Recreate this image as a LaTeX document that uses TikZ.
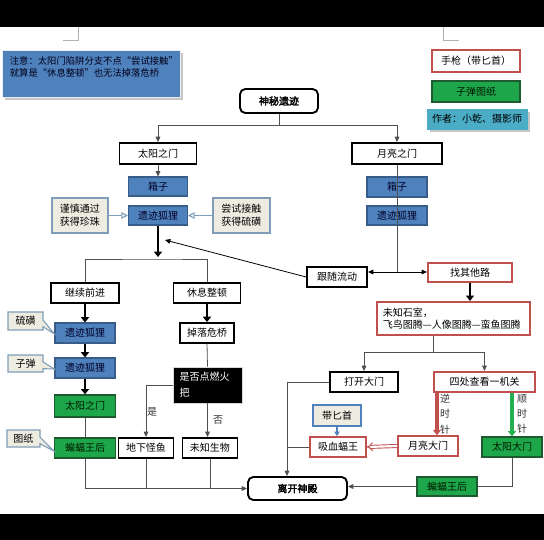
\documentclass[tikz,border=0pt]{standalone}
\usepackage{fontspec}
\setmainfont{Noto Sans CJK SC}[AutoFakeBold=2.5]
\usetikzlibrary{arrows.meta,shapes.callouts,shadows,calc}
\definecolor{bluefill}{HTML}{4F81BD}
\definecolor{blueline}{HTML}{385D8A}
\definecolor{greenfill}{HTML}{1DA74A}
\definecolor{greenline}{HTML}{1E5A30}
\definecolor{greenarrow}{HTML}{22B050}
\definecolor{redline}{HTML}{C0504D}
\definecolor{beige}{HTML}{EEECE1}
\definecolor{calloutline}{HTML}{7F9DB9}
\definecolor{lightblue}{HTML}{4BACC6}
\definecolor{connc}{HTML}{505050}
\begin{document}
\begin{tikzpicture}[x=0.75pt,y=-0.75pt,
  font=\fontsize{7.5pt}{9.5pt}\selectfont,
  wh/.style 2 args={minimum width=#1*0.75pt, minimum height=#2*0.75pt},
  boxbase/.style={draw, inner sep=0pt, align=center, text=black},
  blk/.style={boxbase, line width=1.4pt, fill=white},
  rnd/.style={blk, rounded corners=4pt, font=\fontsize{7.5pt}{9pt}\selectfont\bfseries},
  bluebox/.style={boxbase, fill=bluefill, draw=blueline, line width=0.8pt, text=blue!15!black},
  greenbox/.style={boxbase, fill=greenfill, draw=greenline, line width=1pt, text=green!10!black},
  redbox/.style={boxbase, fill=white, draw=redline, line width=1.2pt},
  redboxthick/.style={redbox, line width=1.6pt},
  beigebox/.style={boxbase, fill=beige, draw=calloutline, line width=0.8pt},
  calloutbox/.style={rectangle callout, beigebox, callout pointer width=5pt},
  cline/.style={draw=connc, line width=0.6pt},
  carrow/.style={cline, -{Triangle[length=4pt,width=3.5pt]}},
  thickarrow/.style={draw=black, line width=2pt, -{Triangle[length=4pt,width=6pt]}},
  openarrow/.style={draw=calloutline, line width=0.8pt, -{Triangle[open,length=5pt,width=5pt]}},
  lbl/.style={inner sep=0pt, text=black!80}
]
\useasboundingbox (0,0) rectangle (544,540);
\fill[white] (0,0) rectangle (544,540);
\fill[black] (0,0) rectangle (544,26.5);
\fill[black] (0,513.5) rectangle (544,540);
\draw[gray!60, line width=0.4pt] (78,27) -- (78,40) -- (63,40);
\draw[gray!60, line width=0.4pt] (443,27) -- (443,40) -- (459,40);

% note and legend
\node[boxbase, fill=bluefill, draw=gray!15, line width=0.6pt, wh={178}{47},
  drop shadow={shadow xshift=2pt, shadow yshift=-2pt, fill=gray!45, opacity=1}] (note) at (91,73.5) {};
\node[anchor=north west, align=left, inner sep=0pt, text=blue!10!black,
  font=\fontsize{7pt}{8.8pt}\selectfont] (notetext) at ($(note.north west)+(8,7)$)
  {注意：太阳门陷阱分支不点“尝试接触”\\就算是“休息整顿”也无法掉落危桥};
\node[redbox, line width=1.4pt, wh={88}{22}] (gun) at (476,61) {手枪（带匕首）};
\node[greenbox, wh={88}{21}] (bulletlegend) at (476,91.5) {子弹图纸};
\node[boxbase, fill=lightblue, draw=lightblue, wh={100}{20},
  drop shadow={shadow xshift=2pt, shadow yshift=-2pt, fill=gray!45, opacity=1}] (author) at (477,119) {作者：小乾、摄影师};

% main nodes
\node[rnd, wh={78}{24}] (title) at (279,101) {神秘遗迹};
\node[blk, wh={77}{21}] (sun) at (158,153.5) {太阳之门};
\node[blk, wh={90}{21}] (moon) at (397,153.5) {月亮之门};
\node[bluebox, wh={59}{19}] (box1) at (158,186.5) {箱子};
\node[bluebox, wh={59}{19}] (relic1) at (158,215.5) {遗迹狐狸};
\node[beigebox, wh={56}{35}] (careful) at (80,215.5) {谨慎通过\\获得珍珠};
\node[beigebox, wh={57}{35}] (try) at (241.5,215.5) {尝试接触\\获得硫磺};
\node[bluebox, wh={60}{20}] (box2) at (397,187) {箱子};
\node[bluebox, wh={60}{19}] (relic2) at (397,215.5) {遗迹狐狸};
\node[blk, wh={60}{20}] (follow) at (337,277) {跟随流动};
\node[redboxthick, wh={84}{19}] (other) at (470,272.5) {找其他路};

\node[blk, wh={68}{20}] (cont) at (85,293) {继续前进};
\node[blk, wh={67}{20}] (rest) at (207,293) {休息整顿};
\node[bluebox, wh={60}{20}] (relicA) at (85,333) {遗迹狐狸};
\node[bluebox, wh={60}{20}] (relicB) at (85,368) {遗迹狐狸};
\node[greenbox, wh={61}{22}] (sungreen) at (85,406) {太阳之门};
\node[greenbox, wh={61}{20}] (queenL) at (85,448) {蝙蝠王后};
\node[calloutbox, wh={35}{18}, callout absolute pointer={($(relicA.west)+(0,1)$)}] (sulfur) at (25.5,321) {硫磺};
\node[calloutbox, wh={35}{17}, callout absolute pointer={($(relicB.west)+(0,1)$)}] (bullet) at (25.5,363.5) {子弹};
\node[calloutbox, wh={33}{17}, callout absolute pointer={($(queenL.west)+(0,3)$)}] (paper) at (23.5,438.5) {图纸};

\node[blk, wh={54}{20}] (bridge) at (207,333) {掉落危桥};
\node[boxbase, fill=black, draw=gray!30, line width=0.6pt, wh={69}{36}, text=white, align=left,
  text width=42pt, font=\fontsize{7.5pt}{12pt}\selectfont] (torch) at (207.5,385) {是否点燃火\\把};
\node[blk, wh={55}{20}] (fish) at (146,448) {地下怪鱼};
\node[blk, wh={55}{20}] (creature) at (210,448) {未知生物};
\node[rnd, wh={99}{23}] (leave) at (297.5,488.5) {离开神殿};

\node[redboxthick, wh={153}{33}, align=left, text width=106pt] (stone) at (453.5,318.5)
  {未知石室，\\飞鸟图腾—人像图腾—蛮鱼图腾};
\node[blk, wh={68}{20}] (open) at (364,382) {打开大门};
\node[redboxthick, wh={101}{20}] (look) at (484.5,382) {四处查看一机关};
\node[beigebox, draw=bluefill, line width=1pt, wh={48}{21}] (dagger) at (337,415.5) {带匕首};
\node[redbox, wh={56}{20}] (vamp) at (338,447) {吸血蝠王};
\node[redbox, wh={60}{20}] (moondoor) at (428,446) {月亮大门};
\node[greenbox, wh={60}{20}] (sundoor) at (512,447) {太阳大门};
\node[greenbox, wh={60}{19}] (queenR) at (447,486.5) {蝙蝠王后};

\node[lbl, align=center, font=\fontsize{7.5pt}{11.5pt}\selectfont] (ccwlbl) at (445,414) {逆\\时\\针};
\node[lbl, align=center, font=\fontsize{7.5pt}{11.5pt}\selectfont] (cwlbl) at (522,414) {顺\\时\\针};
\node[lbl] (yes) at (152,412) {是};
\node[lbl] (no) at (218,420) {否};

% junctions
\coordinate (t1) at (279,125);
\coordinate (j1) at (158,259);
\coordinate (followtip) at (165,240);
\coordinate (m1) at (397,272);
\coordinate (j3) at (433,352);
\coordinate (j4) at (287,382);
\coordinate (ccw) at (437,392);

% connectors
\draw[cline] (title.south) -- (t1);
\draw[carrow] (t1) -| (sun.north);
\draw[carrow] (t1) -| (moon.north);
\draw[carrow] (sun.south) -- (box1.north);
\draw[openarrow] (careful.east) -- (relic1.west);
\draw[openarrow] (try.west) -- (relic1.east);
\draw[thickarrow] (relic1.south) -- ($(j1)+(0,-2)$);
\draw[cline] (cont.north) |- (j1) -| (rest.north);
\draw[cline] (moon.south) -- (m1);
\draw[carrow, draw=black] (m1) -- (m1 -| follow.east);
\draw[carrow, draw=black] (m1) -- (m1 -| other.west);
\draw[draw=black, line width=0.6pt, -{Triangle[length=4pt,width=3.5pt]}] (follow.west) -- (followtip);

\draw[thickarrow] (cont.south) -- (relicA.north);
\draw[thickarrow] (relicA.south) -- (relicB.north);
\draw[thickarrow] (relicB.south) -- (sungreen.north);
\draw[cline] (sungreen.south) -- (queenL.north);
\draw[carrow] (queenL.south) |- (leave.west);

\draw[thickarrow] (rest.south) -- (bridge.north);
\draw[cline] (bridge.south) -- (torch.north);
\draw[carrow] (torch.west) -| (fish.north);
\draw[carrow] (torch.south) -- (torch.south |- creature.north);
\draw[cline] (fish.south) -- (fish.south |- leave.west);
\draw[cline] (creature.south) -- (creature.south |- leave.west);

\draw[thickarrow] (other.south) -- (other.south |- stone.north);
\draw[cline] (j3 |- stone.south) -- (j3);
\draw[carrow] (j3) -| (open.north);
\draw[carrow] (j3) -| (look.north);
\draw[carrow] (open.west) -- (j4) -- (j4 |- leave.north);
\draw[cline] (vamp.west) -- (vamp.west -| j4);
\draw[draw=bluefill, line width=1pt, -{Triangle[length=3.5pt,width=4pt]}] (dagger.south) -- (dagger.south |- vamp.north);
\draw[draw=redline, double, double distance=1.6pt, line width=0.7pt, -{Implies}] (moondoor.west) -- (vamp.east);
\draw[draw=redline, line width=2.4pt, -{Triangle[length=4pt,width=6pt]}] (look.south -| ccw) -- (moondoor.north -| ccw);
\draw[draw=greenarrow, line width=2.4pt, -{Triangle[length=4pt,width=6pt]}] (look.south -| sundoor.north) -- (sundoor.north);
\draw[cline] (sundoor.south) |- (queenR.east);
\draw[carrow] (queenR.west) -- (queenR.west -| leave.east);
\end{tikzpicture}
\end{document}
